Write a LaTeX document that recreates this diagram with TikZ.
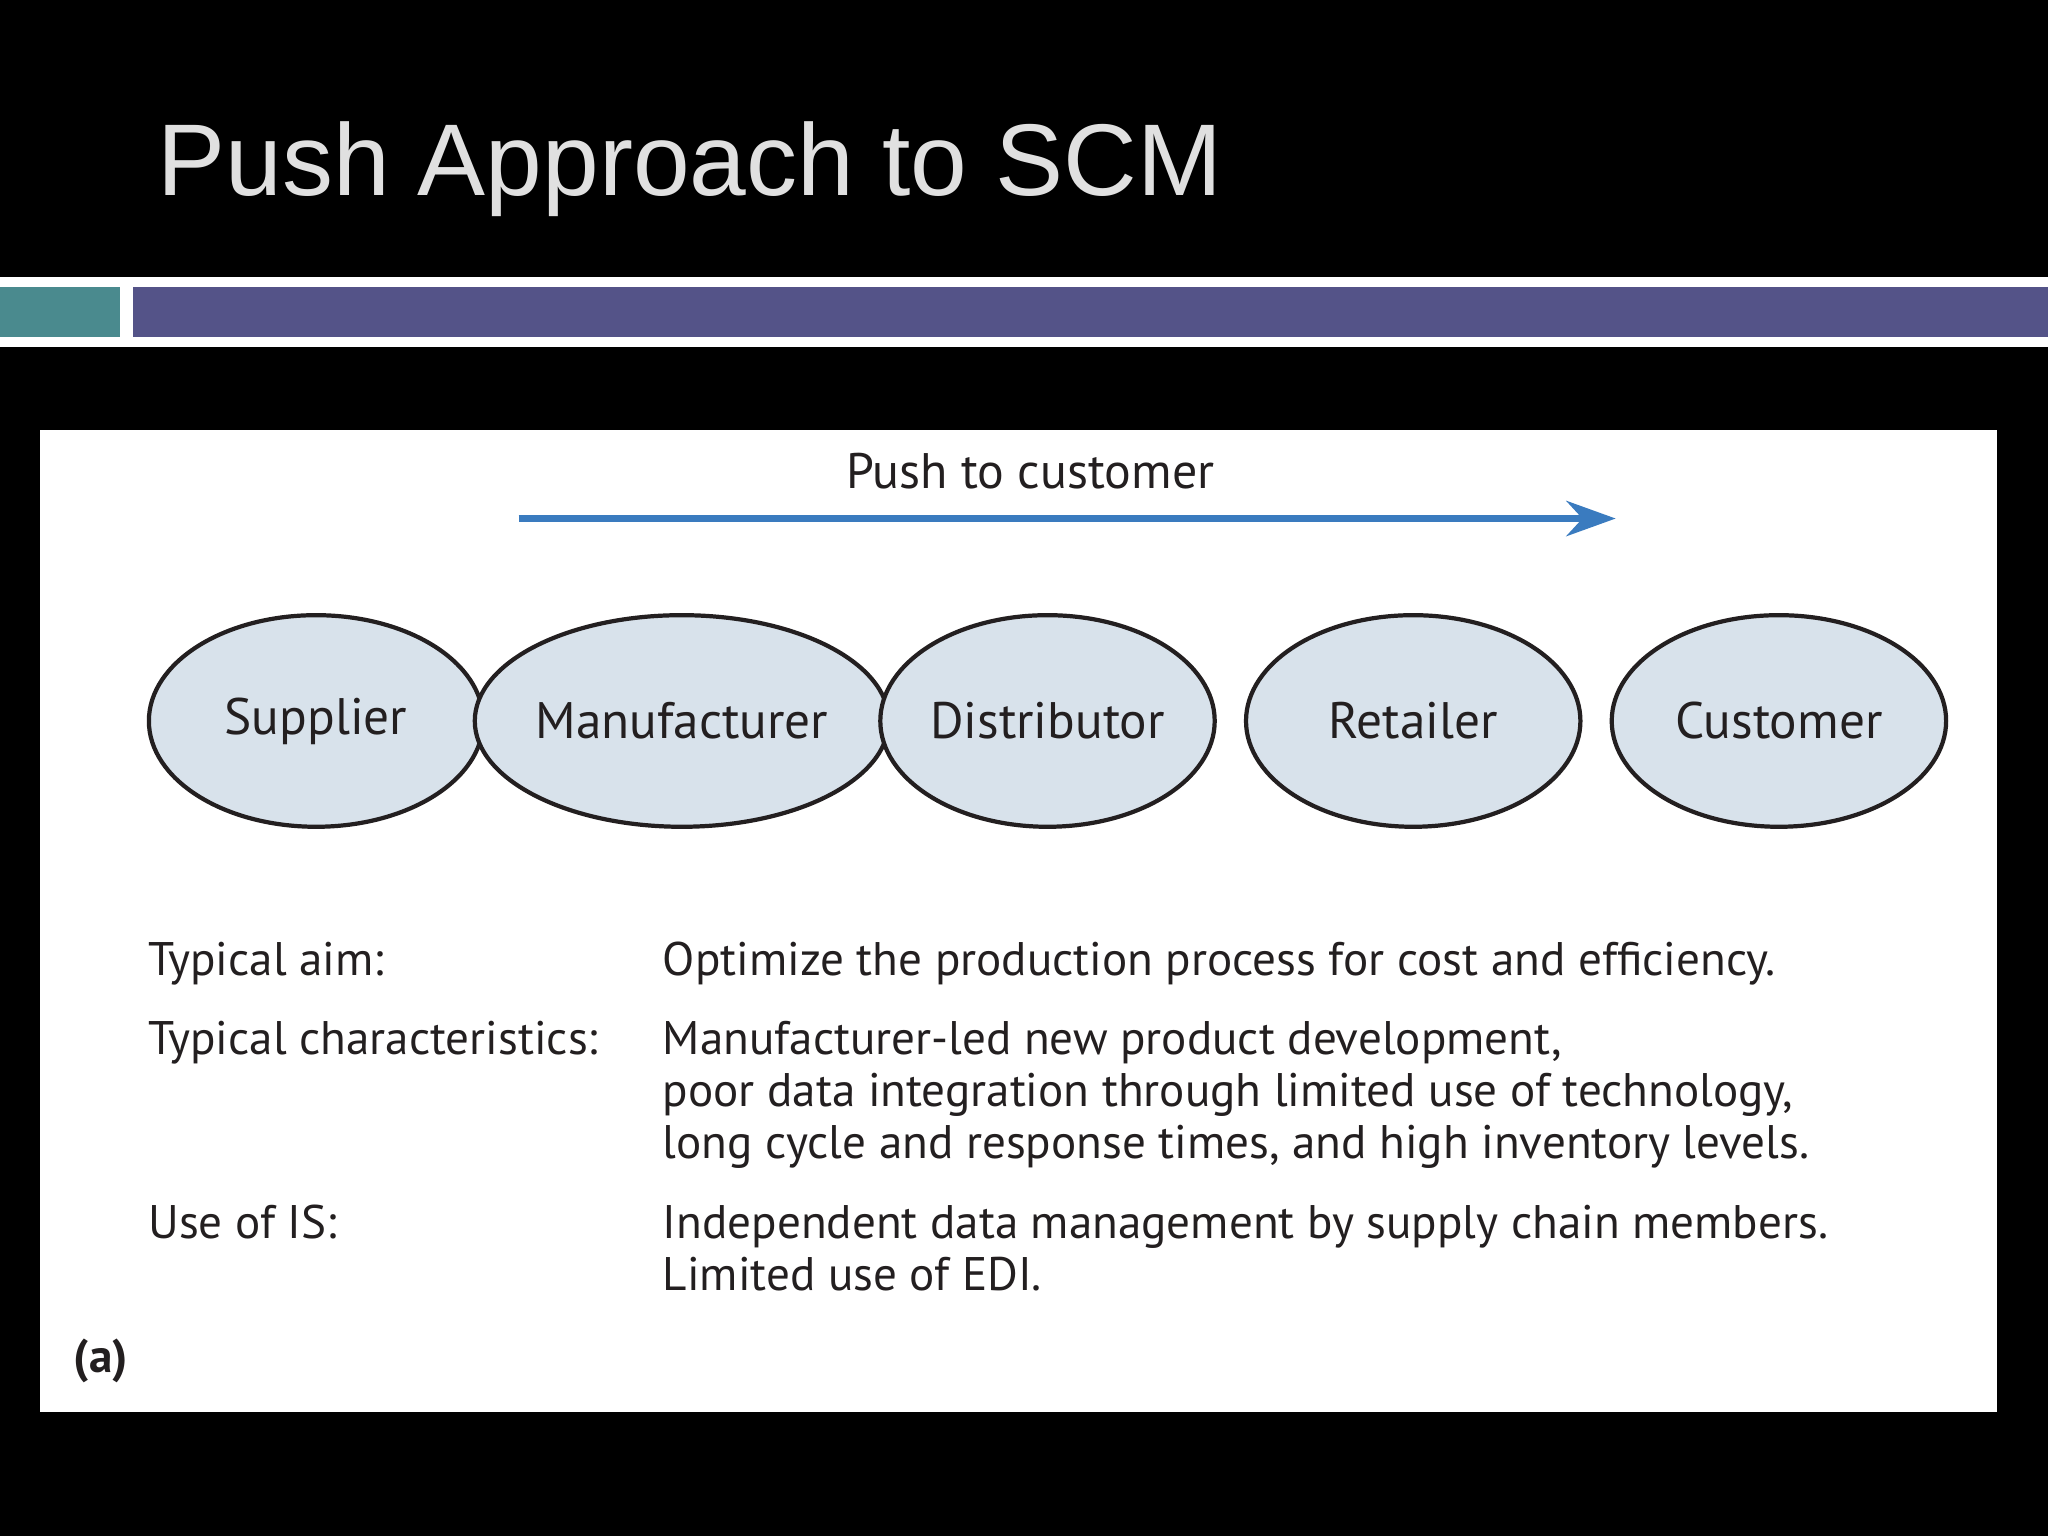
\documentclass[tikz,border=0pt]{standalone}
\usepackage{fontspec}
\setmainfont{PT Sans}
\newfontfamily\titlefont{Liberation Sans}
\usetikzlibrary{shapes.geometric,arrows.meta}
\definecolor{teal1}{HTML}{4A8A8E}
\definecolor{purp}{HTML}{545388}
\definecolor{arrowblue}{HTML}{3A7BBF}
\definecolor{ellfill}{HTML}{D8E2EB}
\definecolor{txt}{HTML}{231F20}
\begin{document}
\begin{tikzpicture}[x=0.013061cm,y=-0.013061cm,
  ent/.style={ellipse,draw=txt,line width=1.2pt,fill=ellfill,minimum width=3.344cm,minimum height=2.116cm,inner sep=0pt,font=\fontsize{14.6}{16}\selectfont,text=txt},
  lbl/.style={anchor=base west,inner sep=0pt,font=\fontsize{13.4}{15}\selectfont,text=txt}]
\useasboundingbox (0,0) rectangle (1568,1176);
\fill[black] (0,0) rectangle (1568,1176);
\node[anchor=base west,inner sep=0pt,text=white!88!black,font=\titlefont\fontsize{29}{34}\selectfont] (title) at (120,150) {Push Approach to SCM};
\fill[white] (0,212) rectangle (1568,266);
\fill[teal1] (0,220) rectangle (92,258);
\fill[purp] (102,220) rectangle (1568,258);
\fill[white] (31,329) rectangle (1529,1081);
\coordinate (a1) at (397,397);
\coordinate (a2) at (1237,397);
\draw[arrowblue,line width=2pt,-{Stealth[length=14pt,width=10pt]}] (a1) -- (a2);
\node[text=txt,font=\fontsize{14.2}{16}\selectfont] (push) at (789,361) {Push to customer};
\node[ent] (s) at (242,552) {Supplier};
\node[ent] (m) at (522,552) {Manufacturer};
\node[ent] (d) at (802,552) {Distributor};
\node[ent] (r) at (1082,552) {Retailer};
\node[ent] (c) at (1362,552) {Customer};
\node[lbl] (l1) at (113,747) {Typical aim:};
\node[lbl] (r1) at (507,747) {Optimize the production process for cost and efficiency.};
\node[lbl] (l2) at (113,807) {Typical characteristics:};
\node[lbl] (r2) at (507,807) {Manufacturer-led new product development,};
\node[lbl] (r3) at (507,847) {poor data integration through limited use of technology,};
\node[lbl] (r4) at (507,887) {long cycle and response times, and high inventory levels.};
\node[lbl] (l3) at (113,948) {Use of IS:};
\node[lbl] (r5) at (507,948) {Independent data management by supply chain members.};
\node[lbl] (r6) at (507,988) {Limited use of EDI.};
\node[lbl,font=\bfseries\fontsize{13.4}{15}\selectfont] (a) at (56,1051) {(a)};
\end{tikzpicture}
\end{document}
